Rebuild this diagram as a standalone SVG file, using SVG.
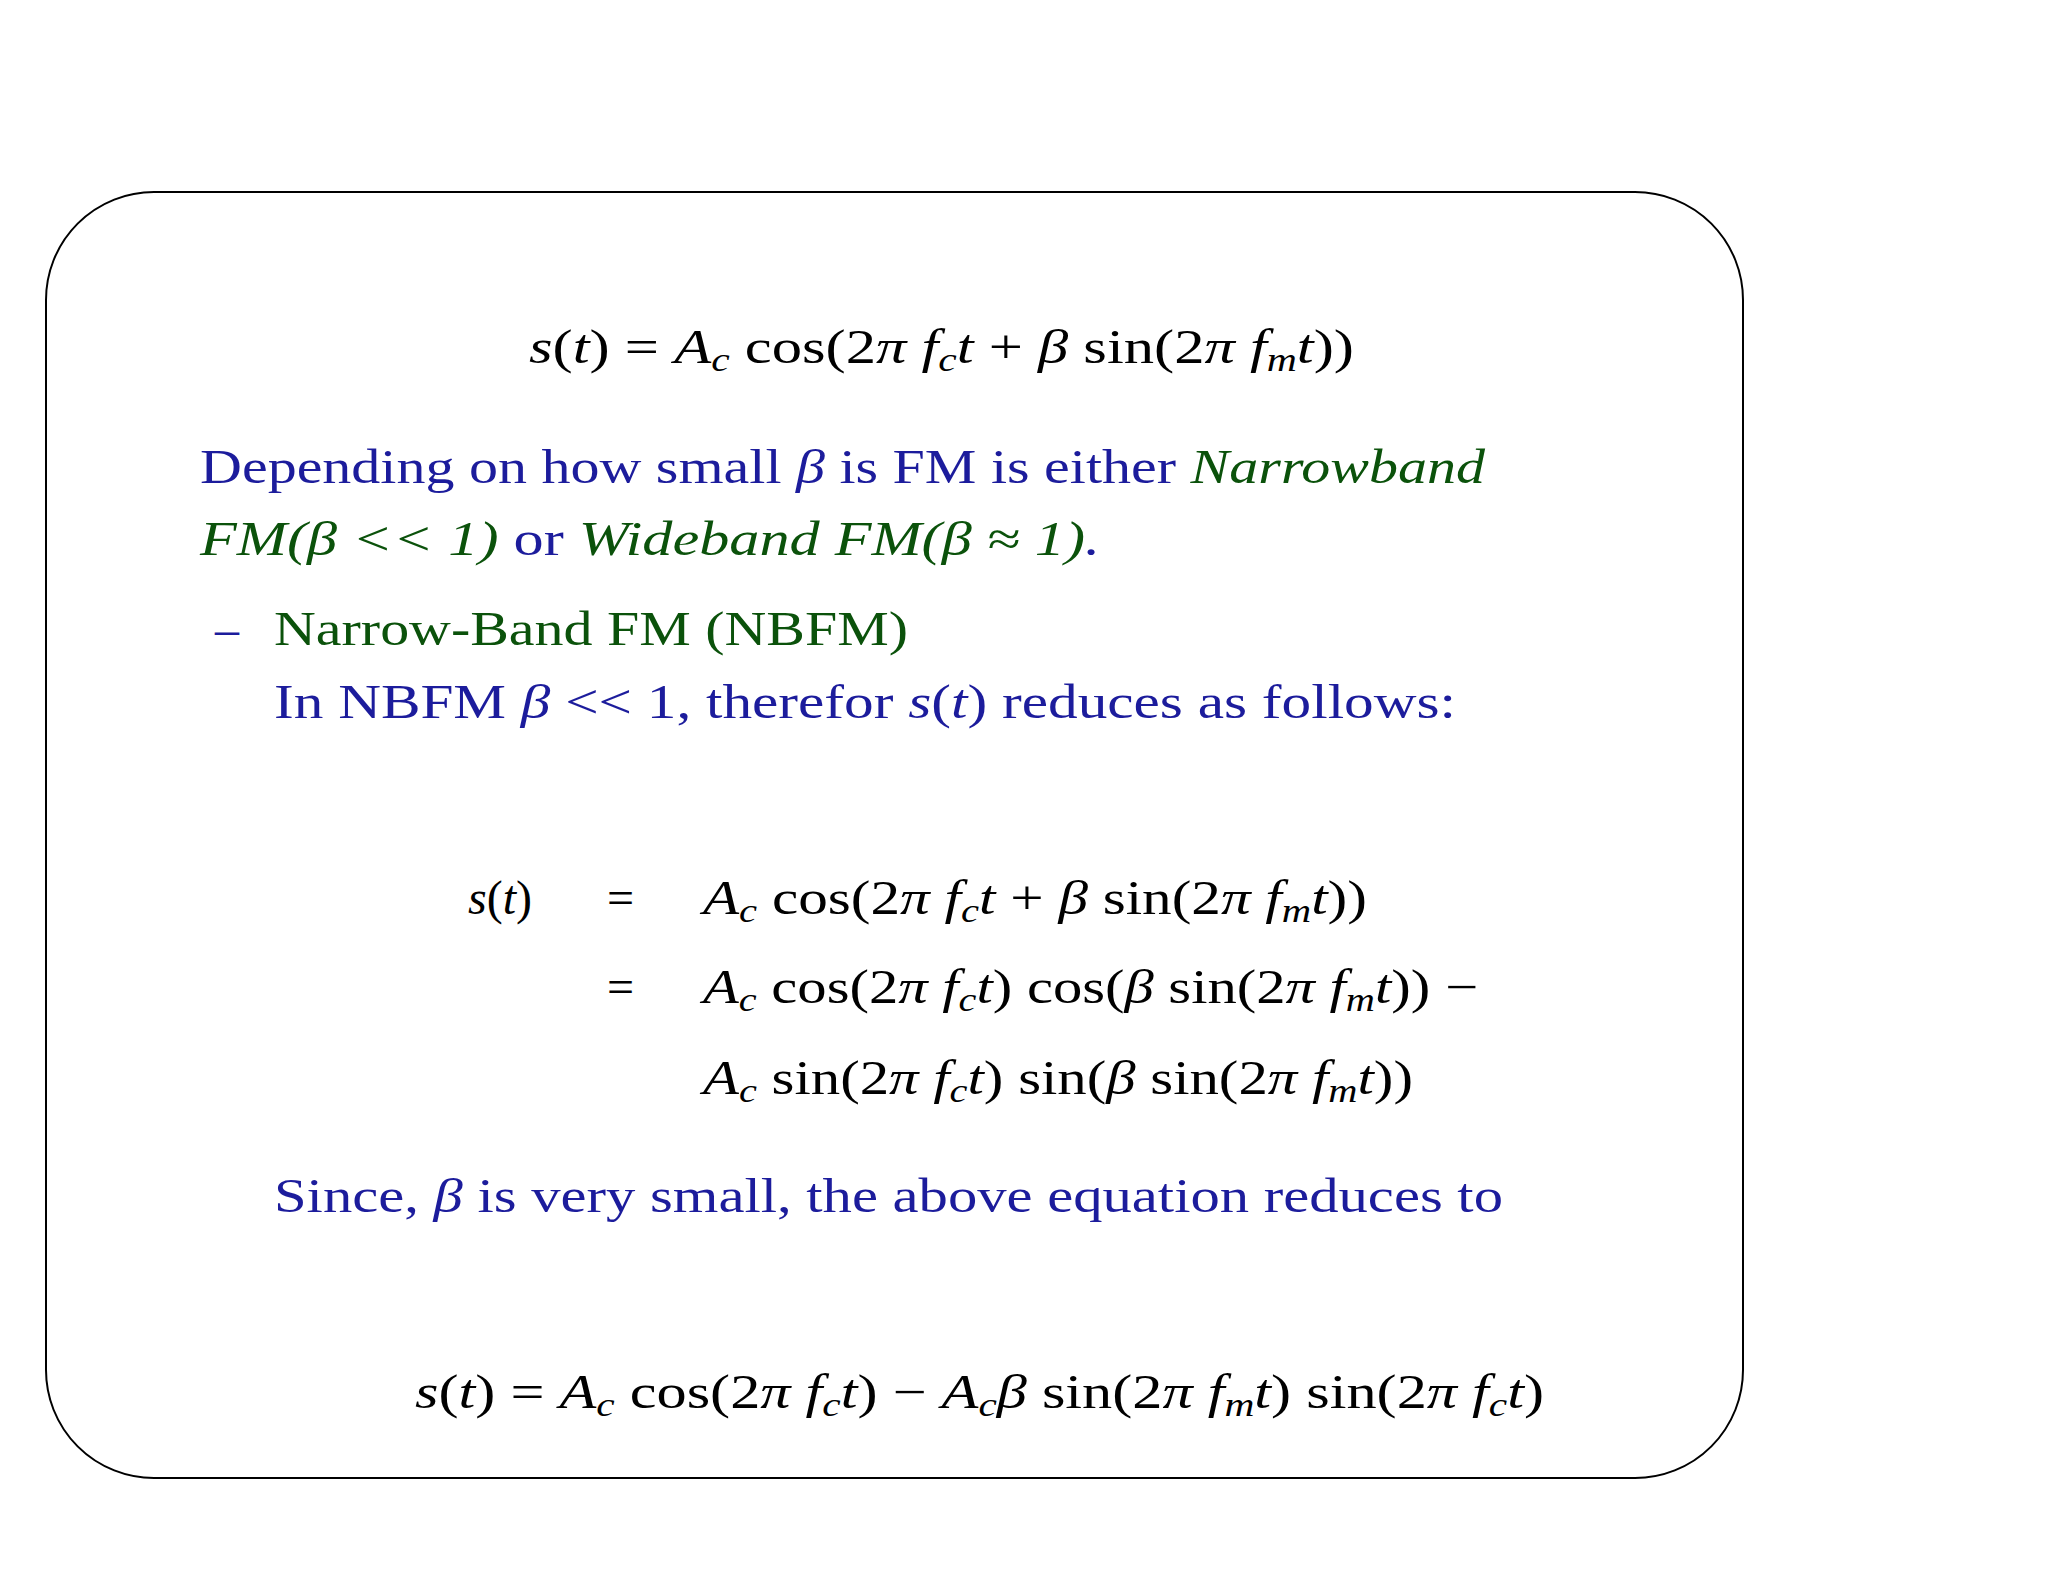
<svg xmlns="http://www.w3.org/2000/svg" width="2048" height="1582" viewBox="0 0 2048 1582">
<style>
text{font-family:"Liberation Serif","DejaVu Serif",serif;font-size:48px}
.b{fill:#1c1c9c}.g{fill:#0b520b}.k{fill:#000}
.i{font-style:italic}
.s{font-size:33px}
</style>
<rect width="2048" height="1582" fill="#fff"/>
<g id="frame"><rect x="46" y="192" width="1697" height="1286" rx="108" ry="108" fill="none" stroke="#000" stroke-width="2"/></g>
<g id="eq1"><text class="k" x="529" y="363" textLength="825" lengthAdjust="spacingAndGlyphs"><tspan class="i">s</tspan>(<tspan class="i">t</tspan>) = <tspan class="i">A</tspan><tspan class="i s" dy="8">c</tspan><tspan dy="-8"> cos(2</tspan><tspan class="i">π f</tspan><tspan class="i s" dy="8">c</tspan><tspan class="i" dy="-8">t</tspan> + <tspan class="i">β</tspan> sin(2<tspan class="i">π f</tspan><tspan class="i s" dy="8">m</tspan><tspan class="i" dy="-8">t</tspan>))</text></g>
<g id="para">
<text class="b" x="200" y="483" textLength="1285" lengthAdjust="spacingAndGlyphs">Depending on how small <tspan class="i">β</tspan> is FM is either <tspan class="g i">Narrowband</tspan></text>
<text class="g i" x="200" y="555" textLength="900" lengthAdjust="spacingAndGlyphs">FM(β &lt;&lt; 1)<tspan class="b" font-style="normal"> or </tspan>Wideband FM(β ≈ 1)<tspan class="b">.</tspan></text>
<text class="b" x="215" y="645">–</text>
<text class="g" x="274" y="645" textLength="634" lengthAdjust="spacingAndGlyphs">Narrow-Band FM (NBFM)</text>
<text class="b" x="274" y="718" textLength="1182" lengthAdjust="spacingAndGlyphs">In NBFM <tspan class="i">β</tspan> &lt;&lt; 1, therefor <tspan class="i">s</tspan>(<tspan class="i">t</tspan>) reduces as follows:</text>
</g>
<g id="eqarray">
<text class="k" x="468" y="914"><tspan class="i">s</tspan>(<tspan class="i">t</tspan>)</text>
<text class="k" x="607" y="914">=</text>
<text class="k" x="703" y="914" textLength="664" lengthAdjust="spacingAndGlyphs"><tspan class="i">A</tspan><tspan class="i s" dy="8">c</tspan><tspan dy="-8"> cos(2</tspan><tspan class="i">π f</tspan><tspan class="i s" dy="8">c</tspan><tspan class="i" dy="-8">t</tspan> + <tspan class="i">β</tspan> sin(2<tspan class="i">π f</tspan><tspan class="i s" dy="8">m</tspan><tspan class="i" dy="-8">t</tspan>))</text>
<text class="k" x="607" y="1003">=</text>
<text class="k" x="703" y="1003" textLength="775" lengthAdjust="spacingAndGlyphs"><tspan class="i">A</tspan><tspan class="i s" dy="8">c</tspan><tspan dy="-8"> cos(2</tspan><tspan class="i">π f</tspan><tspan class="i s" dy="8">c</tspan><tspan class="i" dy="-8">t</tspan>) cos(<tspan class="i">β</tspan> sin(2<tspan class="i">π f</tspan><tspan class="i s" dy="8">m</tspan><tspan class="i" dy="-8">t</tspan>)) −</text>
<text class="k" x="703" y="1094" textLength="710" lengthAdjust="spacingAndGlyphs"><tspan class="i">A</tspan><tspan class="i s" dy="8">c</tspan><tspan dy="-8"> sin(2</tspan><tspan class="i">π f</tspan><tspan class="i s" dy="8">c</tspan><tspan class="i" dy="-8">t</tspan>) sin(<tspan class="i">β</tspan> sin(2<tspan class="i">π f</tspan><tspan class="i s" dy="8">m</tspan><tspan class="i" dy="-8">t</tspan>))</text>
</g>
<g id="since"><text class="b" x="274" y="1212" textLength="1229" lengthAdjust="spacingAndGlyphs">Since, <tspan class="i">β</tspan> is very small, the above equation reduces to</text></g>
<g id="eqfinal"><text class="k" x="415" y="1408" textLength="1129" lengthAdjust="spacingAndGlyphs"><tspan class="i">s</tspan>(<tspan class="i">t</tspan>) = <tspan class="i">A</tspan><tspan class="i s" dy="8">c</tspan><tspan dy="-8"> cos(2</tspan><tspan class="i">π f</tspan><tspan class="i s" dy="8">c</tspan><tspan class="i" dy="-8">t</tspan>) − <tspan class="i">A</tspan><tspan class="i s" dy="8">c</tspan><tspan class="i" dy="-8">β</tspan> sin(2<tspan class="i">π f</tspan><tspan class="i s" dy="8">m</tspan><tspan class="i" dy="-8">t</tspan>) sin(2<tspan class="i">π f</tspan><tspan class="i s" dy="8">c</tspan><tspan class="i" dy="-8">t</tspan>)</text></g>
<g id="connectors"/>
</svg>
